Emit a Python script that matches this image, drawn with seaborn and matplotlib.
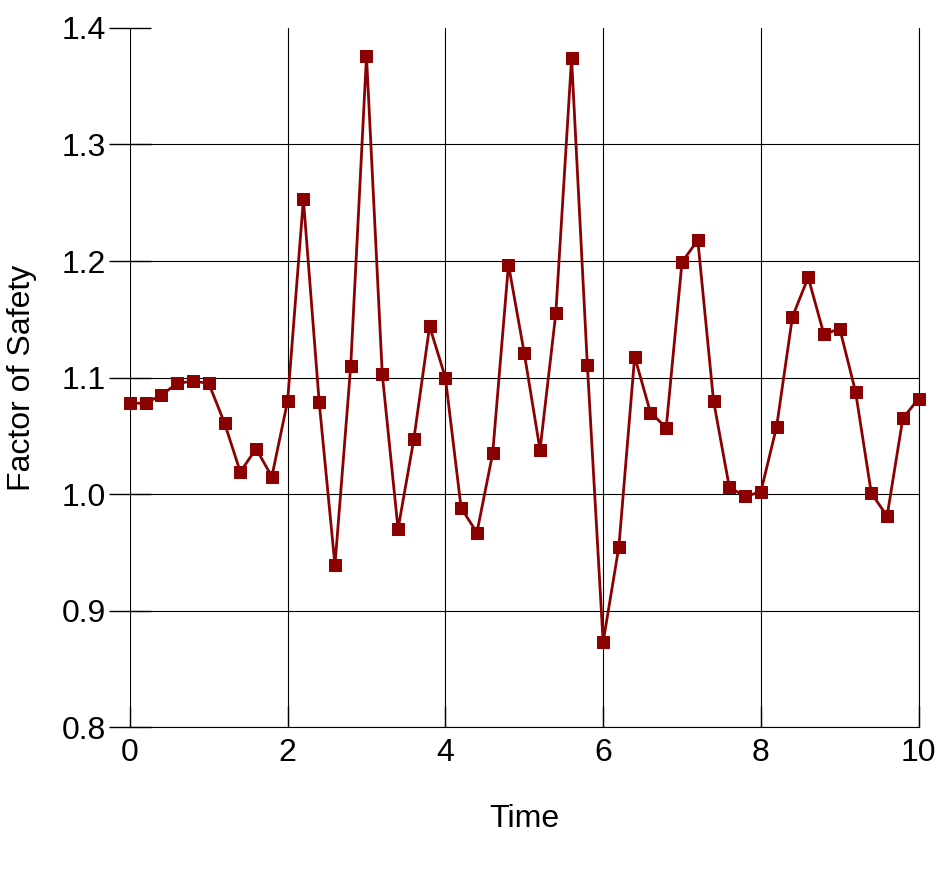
import matplotlib
matplotlib.use("Agg")
import matplotlib.pyplot as plt
import seaborn as sns
import pandas as pd

time = [round(i * 0.2, 1) for i in range(51)]
fos = [1.078, 1.078, 1.085, 1.095, 1.097, 1.095, 1.061, 1.019, 1.039, 1.015,
       1.080, 1.253, 1.079, 0.939, 1.110, 1.376, 1.103, 0.970, 1.047, 1.144,
       1.100, 0.988, 0.967, 1.035, 1.197, 1.121, 1.038, 1.155, 1.374, 1.111,
       0.873, 0.955, 1.118, 1.070, 1.057, 1.199, 1.218, 1.080, 1.006, 0.998,
       1.002, 1.058, 1.152, 1.186, 1.137, 1.142, 1.088, 1.001, 0.981, 1.065,
       1.082]
df = pd.DataFrame({"Time": time, "FoS": fos})

sns.set_style("white")
plt.rcParams['font.family'] = ['Liberation Sans', 'DejaVu Sans']
plt.rcParams['text.color'] = 'black'

fig = plt.figure(figsize=(9.48, 8.73), dpi=100)
ax = fig.add_axes([0.137, 0.167, 0.832, 0.801])
sns.lineplot(data=df, x="Time", y="FoS", color="#8b0000", marker="s",
             markersize=8, markeredgecolor="#8b0000", linewidth=2, ax=ax,
             clip_on=False, zorder=5)

ax.set_xlim(0, 10)
ax.set_ylim(0.8, 1.4)
ax.set_xticks([0, 2, 4, 6, 8, 10])
ax.set_yticks([0.8, 0.9, 1.0, 1.1, 1.2, 1.3, 1.4])
ax.set_yticklabels(["0.8", "0.9", "1.0", "1.1", "1.2", "1.3", "1.4"])
ax.grid(True, color="black", linewidth=0.8)
ax.get_ygridlines()[-1].set_visible(False)
for s in ["top", "left"]:
    ax.spines[s].set_visible(False)
ax.spines["bottom"].set_color("black")
ax.spines["right"].set_color("black")
ax.tick_params(axis="y", left=True, direction="inout", length=30, width=1,
               labelsize=23, pad=2, colors="black")
ax.tick_params(axis="x", bottom=True, direction="in", length=15, width=1,
               labelsize=23, pad=8, colors="black")
ax.set_xlabel("Time", fontsize=23, labelpad=26, color="black")
ax.set_ylabel("Factor of Safety", fontsize=23, labelpad=18, color="black")
fig.savefig("out.png", dpi=100)
